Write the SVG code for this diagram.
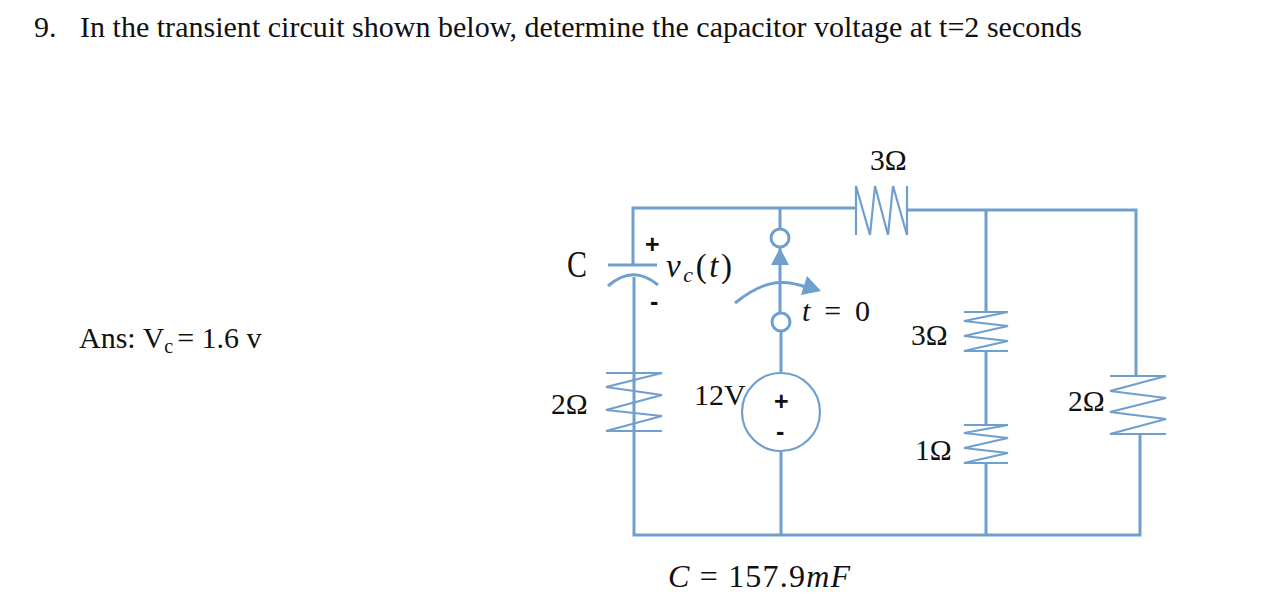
<svg xmlns="http://www.w3.org/2000/svg" width="1262" height="603" viewBox="0 0 1262 603">
<style>
.w{fill:none;stroke:#6f9fcf;stroke-width:3}
.r{fill:none;stroke:#6f9fcf;stroke-width:2.2}
.t{font-family:"Liberation Serif",serif;fill:#111}
.q{font-size:30px}
.l{font-size:29.5px}
.i{font-style:italic}
.b{font-family:"Liberation Sans",sans-serif;font-weight:bold;font-size:25px;fill:#111}
</style>
<rect width="1262" height="603" fill="#fff"/>
<g id="question"><text class="t q" x="34" y="37">9.</text><text class="t q" x="80" y="37" textLength="1002">In the transient circuit shown below, determine the capacitor voltage at t=2 seconds</text></g>
<g id="answer"><text class="t q" x="79" y="348">Ans: V<tspan font-size="20" dy="5">c</tspan><tspan dy="-5" dx="4">= 1.6 v</tspan></text></g>
<g id="connectors">
<path class="w" d="M633 265V208H856M907 210H1136V376M1140 434V535H634V277V373M634 431V534"/>
<path class="w" d="M780 208V229M780 247V313M781 331V373M781 451V534M986 210V312M986 351V425M986 463V535"/>
</g>
<g id="capacitor"><path class="w" d="M608 265H657M608 286Q633 264 658 285"/><text class="t" font-size="38" x="567" y="277" textLength="20" lengthAdjust="spacingAndGlyphs">C</text><text class="b" x="645" y="253">+</text><text class="b" x="650" y="310">-</text><text class="t i" font-size="33" x="666" y="277" textLength="66">v<tspan font-size="22" dy="5">c</tspan><tspan dy="-5" font-style="normal">(</tspan>t<tspan font-style="normal">)</tspan></text></g>
<g id="switch"><circle class="w" cx="780" cy="238" r="9" fill="#fff"/><circle class="w" cx="781" cy="322" r="9" fill="#fff"/><path d="M780 248L771 265H789Z" fill="#6f9fcf"/><path class="w" d="M735 303C760 283 780 277 808 288"/><path d="M821 291L807 276L801 295Z" fill="#6f9fcf"/><text class="t" font-size="30" x="802" y="321" textLength="68"><tspan class="i">t</tspan> = 0</text></g>
<g id="source"><circle class="r" cx="781" cy="412" r="39"/><text class="t" font-size="30" x="694" y="405">12V</text><text class="b" x="774" y="410">+</text><text class="b" x="776" y="440">-</text></g>
<g id="r-top"><path class="r" d="M856 235V186L870 235L875 186L888 235L893 186L907 235V186"/><text class="t l" x="870" y="170">3Ω</text></g>
<g id="r-left"><path class="r" d="M606 373H662L606 387L662 395L606 410L662 416L606 431H662"/><text class="t l" x="551" y="414">2Ω</text></g>
<g id="r-mid"><path class="r" d="M964 312H1008L964 321L1008 326L964 336L1008 341L964 351H1008"/><text class="t l" x="911" y="345">3Ω</text></g>
<g id="r-low"><path class="r" d="M964 425H1008L964 433L1008 438L964 448L1008 453L964 463H1008"/><text class="t l" x="915" y="460">1Ω</text></g>
<g id="r-right"><path class="r" d="M1110 376H1166L1110 391L1166 398L1110 412L1166 419L1110 434H1166"/><text class="t l" x="1068" y="411">2Ω</text></g>
<g id="value"><text class="t" font-size="32" x="668" y="587" textLength="182"><tspan class="i">C</tspan> = 157.9<tspan class="i">mF</tspan></text></g>
</svg>
